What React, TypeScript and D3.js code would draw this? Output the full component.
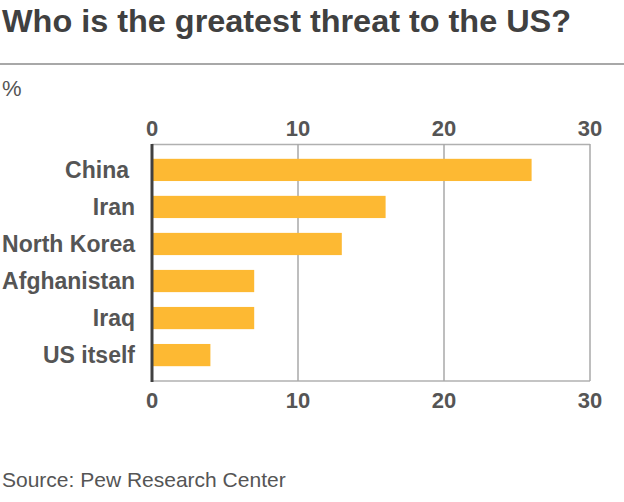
import React from "react";
import * as d3 from "d3";

const categories = ["China", "Iran", "North Korea", "Afghanistan", "Iraq", "US itself"];
const values = [26, 16, 13, 7, 7, 4];
const tickValues = [0, 10, 20, 30];

const W = 624;
const H = 502;
const FONT = "'Liberation Sans', Arial, sans-serif";

export default function App() {
  const x = d3.scaleLinear().domain([0, 30]).range([152, 590]);
  const y = d3
    .scaleBand<string>()
    .domain(categories)
    .range([144, 381])
    .paddingInner(0.4)
    .paddingOuter(0.4);

  return (
    <svg
      width={W}
      height={H}
      style={{ position: "absolute", left: 0, top: 0, background: "#fff" }}
      fontFamily={FONT}
    >
      <text x={2} y={32} fontSize={31} fontWeight="bold" fill="#404040" textLength={569} lengthAdjust="spacingAndGlyphs">
        Who is the greatest threat to the US?
      </text>
      <rect x={0} y={63} width={W} height={2} fill="#a8a8a8" />
      <text x={2} y={96} fontSize={22} fill="#555">%</text>

      {/* frame and gridlines */}
      <line x1={x(0)} x2={x(30)} y1={144.5} y2={144.5} stroke="#b0b0b0" strokeWidth={1.5} />
      <line x1={x(0)} x2={x(30)} y1={381} y2={381} stroke="#b0b0b0" strokeWidth={1.5} />
      {tickValues.slice(1).map((t) => (
        <line key={t} x1={x(t)} x2={x(t)} y1={144} y2={381} stroke="#a8a8a8" strokeWidth={1.5} />
      ))}

      {/* bars */}
      {categories.map((c, i) => (
        <rect
          key={c}
          x={x(0)}
          y={y(c)}
          width={x(values[i]) - x(0)}
          height={y.bandwidth()}
          fill="#FDB933"
        />
      ))}
      <line x1={x(0)} x2={x(0)} y1={144} y2={382} stroke="#404040" strokeWidth={3} />

      {/* tick labels */}
      {tickValues.map((t) => (
        <g key={t}>
          <text x={x(t)} y={136} fontSize={22} fontWeight="bold" fill="#555" textAnchor="middle">
            {t}
          </text>
          <text x={x(t)} y={408} fontSize={22} fontWeight="bold" fill="#555" textAnchor="middle">
            {t}
          </text>
        </g>
      ))}

      {/* category labels */}
      {categories.map((c) => (
        <text
          key={c}
          x={c === "China" ? 129 : 135}
          y={(y(c) as number) + y.bandwidth() / 2 + 8}
          fontSize={23}
          fontWeight="bold"
          fill="#555"
          textAnchor="end"
        >
          {c}
        </text>
      ))}

      <text x={2} y={487} fontSize={21} fill="#555">Source: Pew Research Center</text>
    </svg>
  );
}
